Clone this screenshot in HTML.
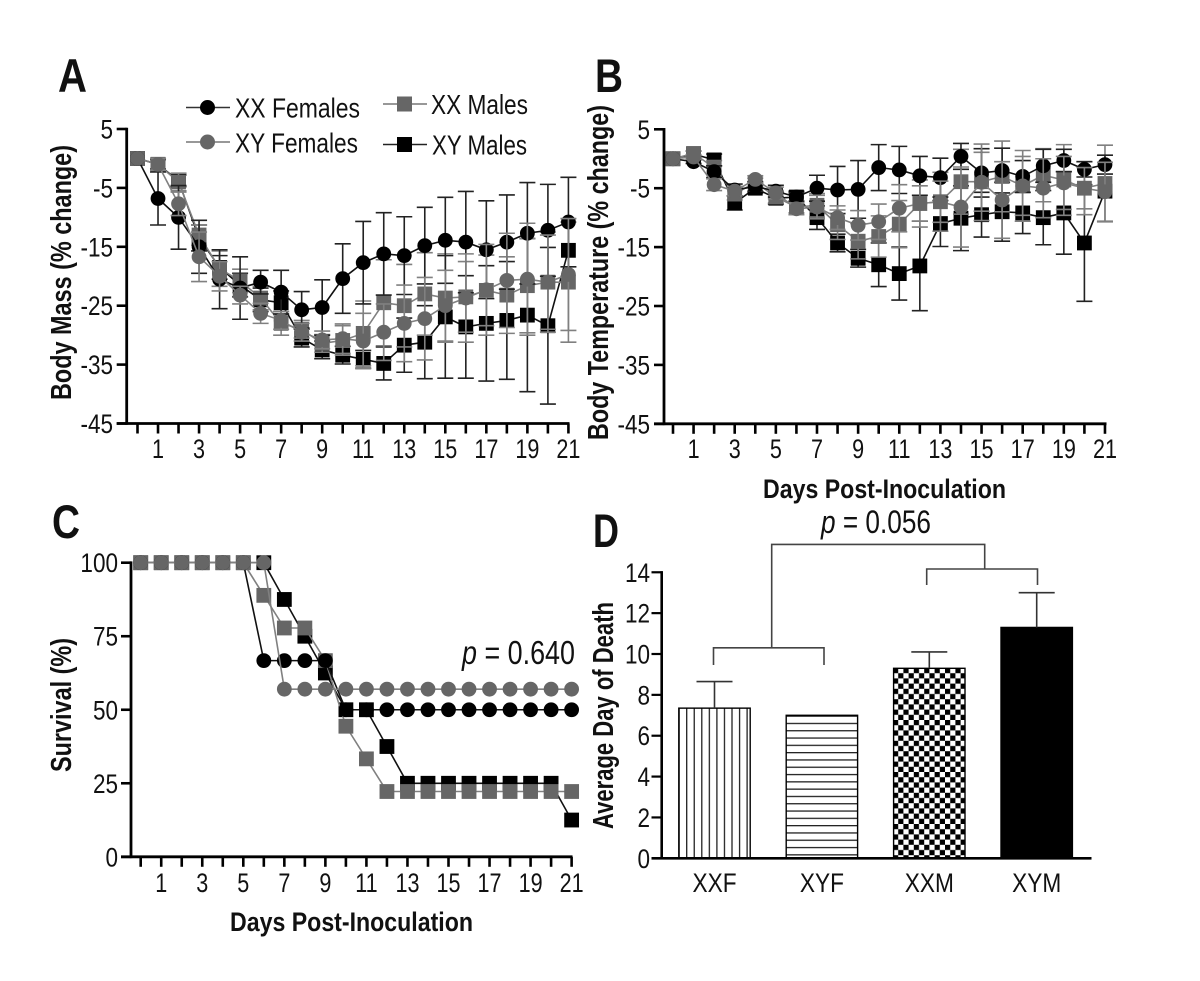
<!DOCTYPE html>
<html lang="en">
<head>
<meta charset="utf-8">
<title>Body mass, temperature, survival and day of death by genotype and sex</title>
<style>
html,body{margin:0;padding:0;background:#fff;}
#figure{display:block;width:1200px;height:981px;}
text{font-family:"Liberation Sans",sans-serif;fill:#111;}
.b{font-weight:bold;}
</style>
</head>
<body>
<svg id="figure" xmlns="http://www.w3.org/2000/svg" width="1200" height="981" viewBox="0 0 1200 981">
<defs>
<pattern id="vstripes" patternUnits="userSpaceOnUse" x="678.5" y="0" width="7.55" height="10"><rect width="7.55" height="10" fill="#fff"/><rect x="0" width="1.3" height="10" fill="#222"/></pattern>
<pattern id="hstripes" patternUnits="userSpaceOnUse" x="0" y="715.5" width="10" height="7.3"><rect width="10" height="7.3" fill="#fff"/><rect y="0" width="10" height="1.3" fill="#222"/></pattern>
<pattern id="checks" patternUnits="userSpaceOnUse" x="893" y="668" width="10.4" height="10.4"><rect width="10.4" height="10.4" fill="#fff"/><rect width="5.2" height="5.2" fill="#000"/><rect x="5.2" y="5.2" width="5.2" height="5.2" fill="#000"/></pattern>
</defs>

<text class="b" x="58" y="92" font-size="47" textLength="29" lengthAdjust="spacingAndGlyphs">A</text>
<text class="b" x="595" y="92" font-size="47" textLength="28" lengthAdjust="spacingAndGlyphs">B</text>
<text class="b" x="52" y="538" font-size="47" textLength="28" lengthAdjust="spacingAndGlyphs">C</text>
<text class="b" x="593" y="547" font-size="47" textLength="26" lengthAdjust="spacingAndGlyphs">D</text>

<g id="panelA"></g>
<g id="panelB"></g>
<g id="panelC"></g>
<g id="panelD"></g>

<text class="b" transform="translate(71,400) rotate(-90)" font-size="29" textLength="255" lengthAdjust="spacingAndGlyphs">Body Mass (% change)</text>
<text class="b" transform="translate(608,440) rotate(-90)" font-size="29" textLength="335" lengthAdjust="spacingAndGlyphs">Body Temperature (% change)</text>
<text class="b" transform="translate(71,772) rotate(-90)" font-size="29" textLength="134" lengthAdjust="spacingAndGlyphs">Survival (%)</text>
<text class="b" transform="translate(613,829) rotate(-90)" font-size="29" textLength="227" lengthAdjust="spacingAndGlyphs">Average Day of Death</text>
<text class="b" x="763" y="498" font-size="27" textLength="243" lengthAdjust="spacingAndGlyphs">Days Post-Inoculation</text>
<text class="b" x="230" y="931" font-size="27" textLength="243" lengthAdjust="spacingAndGlyphs">Days Post-Inoculation</text>

<text x="462" y="664" font-size="33" textLength="113" lengthAdjust="spacingAndGlyphs"><tspan font-style="italic">p</tspan> = 0.640</text>
<text x="821" y="533" font-size="32" textLength="110" lengthAdjust="spacingAndGlyphs"><tspan font-style="italic">p</tspan> = 0.056</text>

<g>
  <g>
    <line x1="186" y1="107.5" x2="230" y2="107.5" stroke="#333" stroke-width="1.6"/>
    <circle cx="207.5" cy="107.5" r="7.5" fill="#000"/>
    <text x="235" y="117.5" font-size="28" textLength="125" lengthAdjust="spacingAndGlyphs">XX Females</text>
  </g>
  <g>
    <line x1="186" y1="142" x2="230" y2="142" stroke="#777" stroke-width="1.6"/>
    <circle cx="207.5" cy="142" r="7.5" fill="#666"/>
    <text x="235" y="152.5" font-size="28" textLength="123" lengthAdjust="spacingAndGlyphs">XY Females</text>
  </g>
  <g>
    <line x1="383" y1="104" x2="427" y2="104" stroke="#777" stroke-width="1.6"/>
    <rect x="397" y="96.5" width="15" height="15" fill="#666"/>
    <text x="431" y="114" font-size="28" textLength="97" lengthAdjust="spacingAndGlyphs">XX Males</text>
  </g>
  <g>
    <line x1="383" y1="144.5" x2="427" y2="144.5" stroke="#222" stroke-width="1.6"/>
    <rect x="397" y="137" width="15" height="15" fill="#000"/>
    <text x="432" y="154.5" font-size="28" textLength="95" lengthAdjust="spacingAndGlyphs">XY Males</text>
  </g>
</g>

<g fill="none" stroke="#444" stroke-width="1.6">
  <path d="M713.5 665V647.8H824V665"/>
  <path d="M926.7 585V569H1037.5V585"/>
  <path d="M771.7 647.8V544.4H984.7V569"/>
</g>

<script>
// Shared x-axis days
const days = [0,1,2,3,4,5,6,7,8,9,10,11,12,13,14,15,16,17,18,19,20,21];

// Panel A: body mass (% change)
const massXXF = [0,-6.8,-10,-15,-20.5,-22,-21,-22.7,-25.7,-25.3,-20.4,-17.7,-16.2,-16.5,-14.8,-13.9,-14.2,-15.5,-14.2,-12.7,-12.2,-10.8];
const massXXFerr = [0,4.5,5.4,4.5,5,5.3,2,3.7,3.1,4.7,5.9,7,7,6.6,6.5,7.3,8.6,8.3,8,8.6,7.8,7.6];
const massXYF = [0,-1,-7.7,-16.7,-20,-23.2,-26.3,-27.5,-29.5,-30.8,-30.6,-31,-29.5,-28,-27.2,-25,-23.7,-22.3,-20.7,-20.5,-21,-19.7];
const massXYFerr = [0,1,2,4.2,2.5,1.5,1.7,1.5,1.5,1.5,2.5,4.7,4.8,6.5,7,6,7.5,7.7,8,9.5,8,9.5];
const massXXM = [0,-1,-4,-13,-18.7,-20.8,-23.7,-28,-29,-31.4,-30.9,-29.7,-24.5,-25,-23,-23.7,-23.5,-22.4,-23.2,-21.6,-21,-21];
const massXXMerr = [0,1,1.5,1.7,3,2,2,2,1.5,1.5,2.5,5.5,7.3,7,7,7.5,6,6,6.5,8,8.5,10.2];
const massXYM = [0,-1,-3.8,-13.5,-18.5,-21.5,-24,-24.5,-30.5,-32.5,-33.4,-34.1,-34.8,-31.7,-31.2,-26.9,-28.6,-28,-27.5,-26.6,-28.4,-15.6];
const massXYMerr = [0,0.8,1,2.2,2,2,2,2,1.5,1.5,1.5,1.5,2.8,4.6,6.2,10.4,8.7,9.8,10,13,13.3,0];
const massTicks = [5,-5,-15,-25,-35,-45];

// Panel B: body temperature (% change)
const tempXXF = [0,-0.5,-2.2,-5.3,-4.7,-5.5,-6.5,-5,-5.3,-5.2,-1.5,-1.9,-2.9,-3.2,0.4,-2.4,-2,-3,-1.2,-0.3,-1.8,-1];
const tempXXFerr = [0,0.3,1,1,0.8,1,0.7,2.2,4,4.9,3.9,4,3.3,3.3,2.2,4.1,3.8,2.7,2.8,1.9,1.3,1.6];
const tempXYF = [0,0.3,-4.4,-5.5,-3.5,-5.8,-8.5,-8.2,-10,-11.3,-10.7,-8.4,-7.6,-7.3,-8.2,-4,-7,-4.6,-5,-4.1,-5,-5.6];
const tempXYFerr = [0,0.4,1,0.8,0.6,1,1,2,2,2.5,3,4,3,3.5,6.8,6.5,6.5,6,5,4.5,3.5,5];
const tempXXM = [0,0.9,-1.5,-6,-4,-6.5,-8.2,-7.9,-11.2,-14,-13.2,-11.1,-7.6,-7.3,-3.9,-3.9,-3,-4.6,-2.8,-3.6,-5,-4.2];
const tempXXMerr = [0,0.4,1.2,1,0.7,1,1,2,2.5,3,3.5,4,4,5,5.5,5,6,5,4.5,6,4.5,6.5];
const tempXYM = [0,0.8,-0.2,-7.5,-5,-6.7,-6.5,-10,-14.3,-16.9,-18,-19.5,-18.2,-11,-10.1,-9.5,-9,-9.2,-10,-9.2,-14.3,-5.5];
const tempXYMerr = [0,0.5,1,1.2,0.8,1,1,2,1.5,1.5,3.7,4.5,7.6,3.9,5.5,3.8,5,3.5,4.6,7,9.9,0];

// Panel C: survival (%)
const survXXF = [100,100,100,100,100,100,66.7,66.7,66.7,66.7,50,50,50,50,50,50,50,50,50,50,50,50];
const survXYF = [100,100,100,100,100,100,100,57,57,57,57,57,57,57,57,57,57,57,57,57,57,57];
const survXXM = [100,100,100,100,100,100,88.9,77.8,77.8,66.7,44.4,33.3,22.2,22.2,22.2,22.2,22.2,22.2,22.2,22.2,22.2,22.2];
const survXYM = [100,100,100,100,100,100,100,87.5,75,62.5,50,50,37.5,25,25,25,25,25,25,25,25,12.5];
const survTicks = [100,75,50,25,0];

// Panel D: average day of death
const groupLabels = ["XXF","XYF","XXM","XYM"];
const groupMeans = [7.35,7.0,9.3,11.3];
const groupTops = [8.65,7.0,10.1,13.0];
const deathTicks = [14,12,10,8,6,4,2,0];

const SVGNS = "http://www.w3.org/2000/svg";
function mk(parent, tag, attrs, txt) {
  const e = document.createElementNS(SVGNS, tag);
  for (const k in attrs) e.setAttribute(k, attrs[k]);
  if (txt !== undefined) e.textContent = txt;
  parent.appendChild(e);
  return e;
}

const BLACK = {line:"#111", mark:"#000", err:"#222"};
const GREY = {line:"#808080", mark:"#666", err:"#808080"};

function axisFrame(g, x, y, x0, x1, yTicks, yTop, yBottom, tickLabelEnd, xLabelY) {
  const yAxis = mk(g, "line", {x1:x0, y1:yTop-1.3, x2:x0, y2:yBottom+1.3, stroke:"#000", "stroke-width":2.8});
  
  
  const xAxis = mk(g, "line", {x1:x0-10, y1:yBottom, x2:x1, y2:yBottom, stroke:"#000", "stroke-width":2.8});
  
  
  yTicks.forEach(function (t) {
    const tk = mk(g, "line", {x1:x0-10, y1:y(t), x2:x0, y2:y(t), stroke:"#000", "stroke-width":2.6});
    
    
    const lb = mk(g, "text", {transform:"translate(" + tickLabelEnd + "," + (y(t)+9.5) + ") scale(0.85,1)", "font-size":26.5, "text-anchor":"end"}, String(t));
    
    
  });
  days.forEach(function (d) {
    const tk = mk(g, "line", {x1:x(d), y1:yBottom, x2:x(d), y2:yBottom+10, stroke:"#000", "stroke-width":2.6});
    
    
    if (d % 2 === 1) {
      const lb = mk(g, "text", {transform:"translate(" + x(d) + "," + xLabelY + ") scale(0.8,1)", "font-size":27, "text-anchor":"middle"}, String(d));
      
      
    }
  });
}

function drawMark(g, shape, px, py, color) {
  if (shape === "circle") return mk(g, "circle", {cx:px, cy:py, r:7.4, fill:color.mark});
  return mk(g, "rect", {x:px-7.4, y:py-7.4, width:14.8, height:14.8, fill:color.mark});
}

function drawSeries(g, name, vals, errs, shape, color, x, y) {
  const sg = mk(g, "g", {});
  
  
  if (errs) {
    vals.forEach(function (v, i) {
      if (!errs[i]) return;
      const px = x(days[i]);
      const hi = y(v + errs[i]);
      const lo = y(v - errs[i]);
      const eb = mk(sg, "path", {d:"M" + (px-8) + " " + hi + "H" + (px+8) + "M" + px + " " + hi + "V" + lo + "M" + (px-8) + " " + lo + "H" + (px+8), fill:"none", stroke:color.err, "stroke-width":1.6});
      
      
    });
  }
  const pts = vals.map(function (v, i) { return x(days[i]) + "," + y(v); }).join(" ");
  mk(sg, "polyline", {points:pts, fill:"none", stroke:color.line, "stroke-width":1.6});
  vals.forEach(function (v, i) {
    const mark = drawMark(sg, shape, x(days[i]), y(v), color);
    
    
  });
}

// Panel A
(function () {
  const g = document.getElementById("panelA");
  const x = function (d) { return 137.5 + d * 20.52; };
  const y = function (v) { return 129 + (5 - v) * 5.89; };
  axisFrame(g, x, y, 126.7, 569.5, massTicks, 129, 423.5, 113, 458);
  drawSeries(g, "xy-males", massXYM, massXYMerr, "square", BLACK, x, y);
  drawSeries(g, "xx-males", massXXM, massXXMerr, "square", GREY, x, y);
  drawSeries(g, "xx-females", massXXF, massXXFerr, "circle", BLACK, x, y);
  drawSeries(g, "xy-females", massXYF, massXYFerr, "circle", GREY, x, y);
})();

// Panel B
(function () {
  const g = document.getElementById("panelB");
  const x = function (d) { return 673 + d * 20.57; };
  const y = function (v) { return 129.3 + (5 - v) * 5.89; };
  axisFrame(g, x, y, 664, 1106.5, massTicks, 129.3, 423.8, 650, 458);
  drawSeries(g, "xy-males", tempXYM, tempXYMerr, "square", BLACK, x, y);
  drawSeries(g, "xx-males", tempXXM, tempXXMerr, "square", GREY, x, y);
  drawSeries(g, "xx-females", tempXXF, tempXXFerr, "circle", BLACK, x, y);
  drawSeries(g, "xy-females", tempXYF, tempXYFerr, "circle", GREY, x, y);
})();

// Panel C
(function () {
  const g = document.getElementById("panelC");
  const x = function (d) { return 140.7 + d * 20.52; };
  const y = function (v) { return 856.8 - v * 2.941; };
  axisFrame(g, x, y, 131, 572.5, survTicks, 562.7, 856.8, 118, 892);
  drawSeries(g, "xy-males", survXYM, null, "square", BLACK, x, y);
  drawSeries(g, "xx-males", survXXM, null, "square", GREY, x, y);
  drawSeries(g, "xx-females", survXXF, null, "circle", BLACK, x, y);
  drawSeries(g, "xy-females", survXYF, null, "circle", GREY, x, y);
})();

// Panel D
(function () {
  const g = document.getElementById("panelD");
  const y = function (v) { return 858.3 - v * 20.43; };
  const x = function (i) { return 714.5 + i * 107.4; };
  const fills = ["url(#vstripes)", "url(#hstripes)", "url(#checks)", "#000"];
  groupMeans.forEach(function (m, i) {
    const bar = mk(g, "rect", {x:x(i)-35.7, y:y(m), width:71.4, height:y(0)-y(m), fill:fills[i], stroke:"#000", "stroke-width":1.4});
    
    
    if (groupTops[i] > m) {
      const eb = mk(g, "path", {d:"M" + (x(i)-18) + " " + y(groupTops[i]) + "H" + (x(i)+18) + "M" + x(i) + " " + y(groupTops[i]) + "V" + y(m), fill:"none", stroke:"#333", "stroke-width":1.6});
      
      
    }
    const lb = mk(g, "text", {transform:"translate(" + x(i) + ",892) scale(0.84,1)", "font-size":27, "text-anchor":"middle"}, groupLabels[i]);
    
    
  });
  const yAxis = mk(g, "line", {x1:661.7, y1:y(14)-1.2, x2:661.7, y2:y(0), stroke:"#000", "stroke-width":2.6});
  
  
  const xAxis = mk(g, "line", {x1:651.5, y1:y(0), x2:1091.5, y2:y(0), stroke:"#000", "stroke-width":2.6});
  
  
  deathTicks.forEach(function (t) {
    const tk = mk(g, "line", {x1:651.5, y1:y(t), x2:661.7, y2:y(t), stroke:"#000", "stroke-width":2.2});
    
    
    const lb = mk(g, "text", {transform:"translate(650," + (y(t)+9.5) + ") scale(0.85,1)", "font-size":26.5, "text-anchor":"end"}, String(t));
    
    
  });
})();
</script>
</svg>
</body>
</html>
